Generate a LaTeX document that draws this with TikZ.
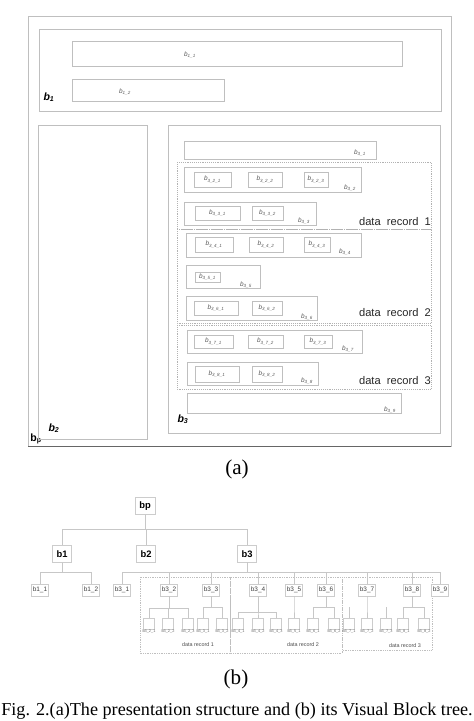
\documentclass[tikz,border=0pt]{standalone}
\usepackage{fontspec}
\setmainfont{Liberation Serif}
\setsansfont{Liberation Sans}
\usetikzlibrary{calc}

\tikzset{
  blk/.style={draw=black!25, line width=0.6pt},
  rec/.style={draw=black!30, densely dotted, line width=0.6pt},
  alab/.style={font=\sffamily\itshape\fontsize{5.5}{6}\selectfont, text=black!65, inner sep=0.5pt},
  mainlab/.style={font=\sffamily\bfseries\itshape\fontsize{9}{10}\selectfont, inner sep=0pt},
  reclab/.style={font=\sffamily\fontsize{9.5}{10}\selectfont, text=black!85},
  tline/.style={draw=black!22, line width=0.7pt},
  vnode/.style={draw=black!20, fill=white, font=\sffamily\fontsize{5.5}{6}\selectfont, text=black!75,
    minimum width=0.51cm, minimum height=0.36cm, inner sep=0pt},
  vtop/.style={vnode, font=\sffamily\bfseries\fontsize{8}{9}\selectfont, text=black,
    minimum width=0.6cm, minimum height=0.51cm},
  vleaf/.style={draw=black!20, minimum width=0.33cm, minimum height=0.33cm, inner sep=0pt},
  leaflab/.style={font=\sffamily\fontsize{3.3}{3.5}\selectfont, text=black!60, inner sep=0.5pt},
  trec/.style={draw=black!25, densely dotted, line width=0.5pt},
  treclab/.style={font=\sffamily\fontsize{4.6}{5}\selectfont, text=black!70}
}

\begin{document}
\begin{tikzpicture}[x=0.03cm, y=-0.03cm]
        \useasboundingbox (0,0) rectangle (474,721);
        % (a) presentation structure
        \draw[blk] (28,16) rectangle (451,446);
        \draw[black!60, line width=0.8pt] (28,446) -- (451,446);
        \node[mainlab, font=\sffamily\bfseries\fontsize{9}{10}\selectfont] (lbp) at (36,439) {b\textsubscript{p}};
        % block b1 and its children
        \draw[blk] (39,29) rectangle (441,111);
        \node[mainlab] (lb1) at (49,97) {b\textsubscript{1}};
        \foreach \n/\xa/\ya/\xb/\yb/\lx/\ly/\t in {a11/72/41/402/66/190/55/1\_1, a12/72/79/224/101/125/92/1\_2} {
            \draw[blk] (\xa,\ya) rectangle (\xb,\yb);
            \node[alab] (\n) at (\lx,\ly) {b\textsubscript{\t}};
        }
        % blocks b2 and b3
        \draw[blk] (38,125) rectangle (147,439);
        \node[mainlab] (lb2) at (54,428) {b\textsubscript{2}};
        \draw[blk] (168,125) rectangle (440,433);
        \node[mainlab] (lb3) at (183,419) {b\textsubscript{3}};
        % data record regions
        \foreach \n/\ya/\yb/\ly/\k in {r1/162/229/222/1, r2/229/323/313/2, r3/325/389/381/3} {
            \draw[rec] (177,\ya) rectangle (431,\yb);
            \node[reclab] (\n) at (395,\ly) {data\ \ record\ \ \k};
        }
        % children of b3
        \foreach \n/\xa/\ya/\xb/\yb/\lx/\ly/\t in {a31/184/141/376/159/360/153/3\_1, a32/184/167/361/192/350/188/3\_2,
            a33/184/202/316/225/304/221/3\_3, a34/186/233/361/257/345/252/3\_4, a35/186/265/260/288/246/285/3\_5,
            a36/186/296/317/320/307/317/3\_6, a37/187/330/362/353/348/349/3\_7, a38/187/362/318/385/307/381/3\_8,
            a39/187/393/401/413/390/410/3\_9} {
            \draw[blk] (\xa,\ya) rectangle (\xb,\yb);
            \node[alab] (\n) at (\lx,\ly) {b\textsubscript{\t}};
        }
        \foreach \n/\xa/\ya/\xb/\yb/\t in {a321/194/172/231/187/3\_2\_1, a322/248/172/282/187/3\_2\_2,
            a323/304/172/328/187/3\_2\_3, a331/195/206/240/220/3\_3\_1, a332/252/206/283/220/3\_3\_2,
            a341/195/237/233/252/3\_4\_1, a342/249/237/283/252/3\_4\_2, a343/304/237/330/252/3\_4\_3,
            a351/195/272/220/282/3\_5\_1, a361/194/301/238/315/3\_6\_1, a362/252/301/282/315/3\_6\_2,
            a371/194/335/233/348/3\_7\_1, a372/248/335/283/348/3\_7\_2, a373/304/335/332/348/3\_7\_3,
            a381/195/366/239/382/3\_8\_1, a382/252/366/282/382/3\_8\_2} {
            \draw[blk] (\xa,\ya) rectangle (\xb,\yb);
            \node[alab] (\n) at ({(\xa+\xb)/2},{(\ya+\yb)/2}) {b\textsubscript{\t}};
        }
        \node[font=\fontsize{18}{20}\selectfont] (capa) at (237,469) {(a)};

        % (b) visual block tree
        % data record regions
        \foreach \n/\xa/\xb/\yb/\lx/\ly/\k in {t1/140/230/653/198/645/1, t2/230/342/653/303/645/2, t3/342/432/650/405/646/3} {
            \draw[trec] (\xa,577) rectangle (\xb,\yb);
            \node[treclab] (\n) at (\lx,\ly) {data record \k};
        }
        \node[vtop] (vbp) at (145,506) {bp};
        \foreach \n/\x/\t in {vb1/62/b1, vb2/146/b2, vb3/247/b3}
            \node[vtop, minimum width=0.57cm] (\n) at (\x,554) {\t};
        \foreach \n/\x/\t in {vb11/40/b1\_1, vb12/91/b1\_2, vb31/122/b3\_1, vb32/169/b3\_2, vb33/211/b3\_3,
            vb34/258/b3\_4, vb35/294/b3\_5, vb36/326/b3\_6, vb37/367/b3\_7, vb38/412/b3\_8, vb39/440/b3\_9}
            \node[vnode] (\n) at (\x,590) {\t};
        \foreach \n/\x/\t in {vb321/149/b3\_2\_1, vb322/168/b3\_2\_2, vb323/188/b3\_2\_3, vb331/203/b3\_3\_1,
            vb332/222/b3\_3\_2, vb341/238/b3\_4\_1, vb342/258/b3\_4\_2, vb343/276/b3\_4\_3, vb351/294/b3\_5\_1,
            vb361/313/b3\_6\_1, vb362/334/b3\_6\_2, vb371/349/b3\_7\_1, vb372/367/b3\_7\_2, vb373/386/b3\_7\_3,
            vb381/403/b3\_8\_1, vb382/424/b3\_8\_2}
            \node[vleaf, label={[leaflab]below:\t}] (\n) at (\x,623.5) {};
        % connectors
        \foreach \c in {vb1,vb2,vb3} \draw[tline] (vbp.south) -- ++(0,15) -| (\c.north);
        \foreach \c in {vb11,vb12} \draw[tline] (vb1.south) -- ++(0,10) -| (\c.north);
        \foreach \c in {vb31,vb32,vb33,vb34,vb35,vb36,vb37,vb38,vb39} \draw[tline] (vb3.south) -- ++(0,10) -| (\c.north);
        \foreach \p/\c/\d in {vb32/vb321/12, vb32/vb322/12, vb32/vb323/12, vb33/vb331/11, vb33/vb332/11,
            vb34/vb341/16, vb34/vb342/16, vb34/vb343/16, vb35/vb351/11, vb36/vb361/11, vb36/vb362/11,
            vb37/vb372/11, vb38/vb381/11, vb38/vb382/11}
            \draw[tline] (\p.south) -- ++(0,\d) -| (\c.north);
        \foreach \c in {vb371,vb373} \draw[tline] (\c.north) -- ++(0,-11);
        \node[font=\fontsize{18}{20}\selectfont] (capb) at (236,679) {(b)};
        \node[font=\fontsize{15.5}{17}\selectfont] (cap) at (237,711) {Fig. 2.(a)The presentation structure and (b) its Visual Block tree.};
\end{tikzpicture}
\end{document}
